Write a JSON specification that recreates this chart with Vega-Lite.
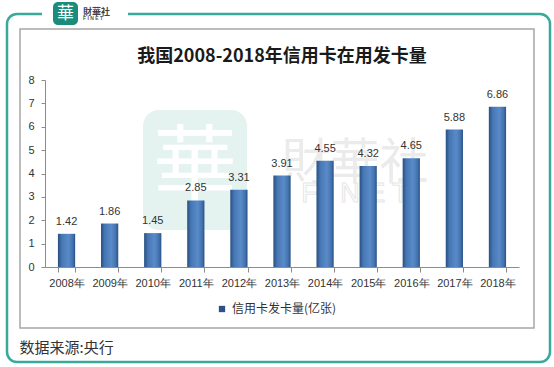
{
  "$schema": "https://vega.github.io/schema/vega-lite/v6.json",
  "autosize": "none",
  "width": 474,
  "height": 187,
  "padding": {"left": 45, "top": 80, "right": 35, "bottom": 100},
  "background": "white",
  "config": {
    "view": {"stroke": null},
    "font": "Noto Sans CJK SC",
    "axis": {"labelFont": "Liberation Sans", "labelFontSize": 11, "labelColor": "#333333", "domainColor": "#8C8C8C", "tickColor": "#8C8C8C", "grid": false}
  },
  "title": {
    "text": "我国2008-2018年信用卡在用发卡量",
    "fontSize": 18,
    "fontWeight": "bold",
    "color": "#1A1A1A",
    "anchor": "middle",
    "frame": "group",
    "offset": 9,
    "dy": 73
  },
  "layer": [
    {
      "data": {"values": [{}]},
      "mark": {"type": "rect", "fill": null, "stroke": "#3AA99B", "strokeWidth": 2.5, "cornerRadius": 10},
      "encoding": {"x": {"value": -38}, "x2": {"value": 505}, "y": {"value": -66}, "y2": {"value": 282}}
    },
    {
      "data": {"values": [{}]},
      "mark": {"type": "rect", "fill": "white"},
      "encoding": {"x": {"value": -3}, "x2": {"value": 83}, "y": {"value": -74}, "y2": {"value": -58}}
    },
    {
      "data": {"values": [{}]},
      "mark": {"type": "rect", "fill": "#1B8C7B", "cornerRadius": 5},
      "encoding": {"x": {"value": 8}, "x2": {"value": 33}, "y": {"value": -78}, "y2": {"value": -55}}
    },
    {
      "data": {"values": [{"t": "華"}]},
      "mark": {"type": "text", "color": "white", "fontSize": 17, "align": "center", "baseline": "middle"},
      "encoding": {"text": {"field": "t"}, "x": {"value": 20.5}, "y": {"value": -66.5}}
    },
    {
      "data": {"values": [{"t": "財華社"}]},
      "mark": {"type": "text", "color": "#444444", "fontSize": 9, "fontWeight": "bold", "align": "left", "baseline": "middle"},
      "encoding": {"text": {"field": "t"}, "x": {"value": 38}, "y": {"value": -68.5}}
    },
    {
      "data": {"values": [{"t": "F I N E T"}]},
      "mark": {"type": "text", "color": "#555555", "fontSize": 5, "font": "Liberation Sans", "fontWeight": "bold", "align": "left", "baseline": "middle"},
      "encoding": {"text": {"field": "t"}, "x": {"value": 38}, "y": {"value": -62}}
    },
    {
      "data": {"values": [{}]},
      "mark": {"type": "rect", "fill": null, "stroke": "#A6A6A6", "strokeWidth": 1.5},
      "encoding": {"x": {"value": -25}, "x2": {"value": 489}, "y": {"value": -51}, "y2": {"value": 248}}
    },
    {
      "data": {"values": [{}]},
      "mark": {"type": "rect", "fill": "#E4F2F0", "cornerRadius": 16},
      "encoding": {"x": {"value": 98}, "x2": {"value": 202}, "y": {"value": 30}, "y2": {"value": 150}}
    },
    {
      "data": {"values": [{"t": "華"}]},
      "mark": {"type": "text", "color": "white", "fontSize": 84, "fontWeight": "normal", "align": "center", "baseline": "middle"},
      "encoding": {"text": {"field": "t"}, "x": {"value": 150}, "y": {"value": 90}}
    },
    {
      "data": {"values": [{"t": "財華社"}]},
      "mark": {"type": "text", "color": "#EBEBEB", "fontSize": 49, "align": "center", "baseline": "middle"},
      "encoding": {"text": {"field": "t"}, "x": {"value": 310}, "y": {"value": 84}}
    },
    {
      "data": {"values": [{"t": "F  I  N  E  T"}]},
      "mark": {"type": "text", "color": "white", "stroke": "#E6E6E6", "strokeWidth": 1, "fontSize": 27, "font": "Liberation Sans", "align": "center", "baseline": "middle"},
      "encoding": {"text": {"field": "t"}, "x": {"value": 310}, "y": {"value": 114}}
    },
    {
      "data": {"name": "cards", "values": [
        {"year": "2008年", "value": 1.42, "series": "信用卡发卡量(亿张)"},
        {"year": "2009年", "value": 1.86, "series": "信用卡发卡量(亿张)"},
        {"year": "2010年", "value": 1.45, "series": "信用卡发卡量(亿张)"},
        {"year": "2011年", "value": 2.85, "series": "信用卡发卡量(亿张)"},
        {"year": "2012年", "value": 3.31, "series": "信用卡发卡量(亿张)"},
        {"year": "2013年", "value": 3.91, "series": "信用卡发卡量(亿张)"},
        {"year": "2014年", "value": 4.55, "series": "信用卡发卡量(亿张)"},
        {"year": "2015年", "value": 4.32, "series": "信用卡发卡量(亿张)"},
        {"year": "2016年", "value": 4.65, "series": "信用卡发卡量(亿张)"},
        {"year": "2017年", "value": 5.88, "series": "信用卡发卡量(亿张)"},
        {"year": "2018年", "value": 6.86, "series": "信用卡发卡量(亿张)"}
      ]},
      "encoding": {
        "x": {
          "field": "year", "type": "nominal", "sort": null,
          "scale": {"paddingInner": 0.6, "paddingOuter": 0.3},
          "axis": {
            "labelAngle": 0, "tickBand": "extent", "tickSize": 5, "labelPadding": 5,
            "title": "数据来源:央行",
            "titleFontSize": 15, "titleFontWeight": "normal", "titleColor": "#333333",
            "titleAnchor": "start", "titleAlign": "left", "titleBaseline": "middle",
            "titleX": -26, "titleY": 80
          }
        },
        "y": {
          "field": "value", "type": "quantitative",
          "scale": {"domain": [0, 8], "nice": false},
          "axis": {"values": [0, 1, 2, 3, 4, 5, 6, 7, 8], "tickCount": 9, "labelOverlap": false, "title": null, "tickSize": 4, "labelPadding": 7, "format": "d"}
        }
      },
      "layer": [
        {
          "mark": {
            "type": "bar",
            "fill": {"gradient": "linear", "x1": 0, "x2": 1, "y1": 0, "y2": 0, "stops": [
              {"offset": 0, "color": "#284F80"},
              {"offset": 0.22, "color": "#4677B4"},
              {"offset": 0.6, "color": "#5A8BC9"},
              {"offset": 0.85, "color": "#4474B0"},
              {"offset": 1, "color": "#2A5284"}
            ]}
          },
          "encoding": {
            "color": {
              "field": "series", "type": "nominal",
              "scale": {"range": ["#2E5287"]},
              "legend": {
                "orient": "none", "legendX": 171, "legendY": 223, "title": null,
                "symbolType": "square", "symbolSize": 40, "symbolFillColor": "#2E5287", "symbolStrokeWidth": 0,
                "labelFontSize": 12, "labelColor": "#333333", "labelFont": "Noto Sans CJK SC"
              }
            }
          }
        },
        {
          "mark": {"type": "text", "dy": -9, "baseline": "alphabetic", "align": "center", "fontSize": 11, "font": "Liberation Sans", "color": "#333333"},
          "encoding": {
            "text": {"field": "value", "type": "quantitative", "format": ".2f"}
          }
        }
      ]
    }
  ]
}
